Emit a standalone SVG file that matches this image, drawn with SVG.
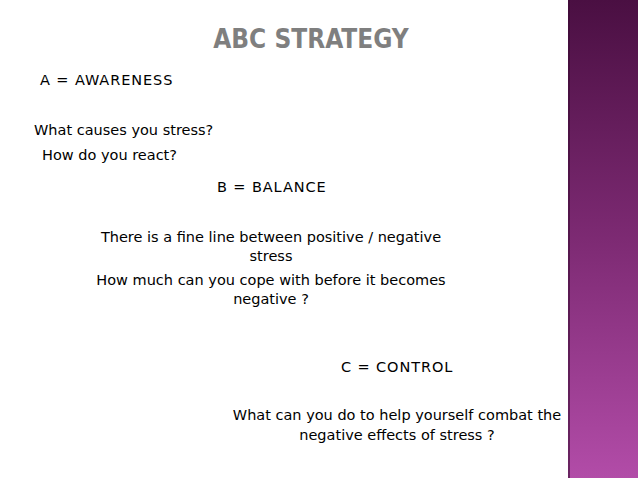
<svg xmlns="http://www.w3.org/2000/svg" width="638" height="478" viewBox="0 0 638 478">
<defs>
<linearGradient id="bar" x1="0" y1="0" x2="0" y2="1">
<stop offset="0" stop-color="#4a0f42"/>
<stop offset="0.5" stop-color="#7d2a73"/>
<stop offset="1" stop-color="#b24ca8"/>
</linearGradient>
<style>
.t{font-family:"DejaVu Sans",sans-serif;font-size:14.5px;fill:#000}
.h{letter-spacing:0.9px}
.m{text-anchor:middle}
</style>
</defs>
<rect width="638" height="478" fill="#fff"/>
<rect x="568" y="0" width="70" height="478" fill="url(#bar)"/>
<rect x="568" y="0" width="2" height="478" fill="#3a0a34" opacity="0.6"/>
<text x="311" y="48" text-anchor="middle" font-family="'DejaVu Sans Condensed','DejaVu Sans',sans-serif" font-weight="bold" font-size="26" fill="#7f7f7f">ABC STRATEGY</text>
<text class="t h" x="40" y="85">A = AWARENESS</text>
<text class="t" x="34" y="135">What causes you stress?</text>
<text class="t" x="42" y="160">How do you react?</text>
<text class="t h" x="217" y="192">B = BALANCE</text>
<text class="t m" x="271" y="242">There is a fine line between positive / negative</text>
<text class="t m" x="271" y="261">stress</text>
<text class="t m" x="271" y="285">How much can you cope with before it becomes</text>
<text class="t m" x="271" y="304">negative ?</text>
<text class="t h" x="341" y="372">C = CONTROL</text>
<text class="t m" x="397" y="420">What can you do to help yourself combat the</text>
<text class="t m" x="397" y="440">negative effects of stress ?</text>
</svg>
